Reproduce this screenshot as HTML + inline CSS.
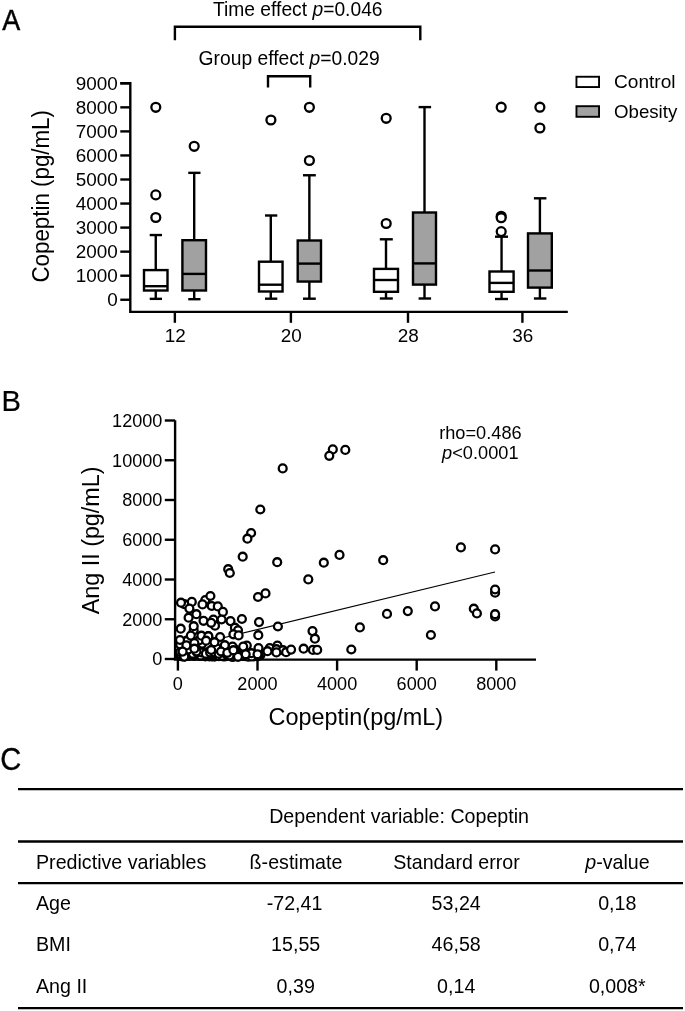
<!DOCTYPE html>
<html lang="en"><head><meta charset="utf-8"><title>Figure</title>
<style>
html,body{margin:0;padding:0;background:#fff}
body{width:685px;height:1011px;overflow:hidden}
svg{display:block}
svg text{font-family:"Liberation Sans", Arial, Helvetica, sans-serif;fill:#000}
</style></head><body>
<svg width="685" height="1011" viewBox="0 0 685 1011">
<rect width="685" height="1011" fill="#fff"/>
<g id="panelA">
<text transform="translate(2.2 29.8) scale(0.895 1)" font-size="30.1" text-anchor="start" stroke="#000" stroke-width="0.45">A</text>
<path d="M174.9 40.2V26.8H420.3V40.2" fill="none" stroke="#000" stroke-width="2.4"/>
<text transform="translate(212.9 16.05) scale(0.983 1)" font-size="19.6" text-anchor="start">Time effect <tspan font-style="italic">p</tspan>=0.046</text>
<path d="M268.0 87.6V76.3H310.2V87.6" fill="none" stroke="#000" stroke-width="2.4"/>
<text transform="translate(198.6 64.5) scale(0.983 1)" font-size="19.6" text-anchor="start">Group effect <tspan font-style="italic">p</tspan>=0.029</text>
<path d="M120.3 83.30H130.3V311.85H567.8" fill="none" stroke="#000" stroke-width="2.4"/>
<line x1="120.3" y1="299.75" x2="130.3" y2="299.75" stroke="#000" stroke-width="2.4"/>
<text x="117.8" y="306.25" font-size="18.9" text-anchor="end">0</text>
<line x1="120.3" y1="275.70" x2="130.3" y2="275.70" stroke="#000" stroke-width="2.4"/>
<text x="117.8" y="282.20" font-size="18.9" text-anchor="end">1000</text>
<line x1="120.3" y1="251.65" x2="130.3" y2="251.65" stroke="#000" stroke-width="2.4"/>
<text x="117.8" y="258.15" font-size="18.9" text-anchor="end">2000</text>
<line x1="120.3" y1="227.60" x2="130.3" y2="227.60" stroke="#000" stroke-width="2.4"/>
<text x="117.8" y="234.10" font-size="18.9" text-anchor="end">3000</text>
<line x1="120.3" y1="203.55" x2="130.3" y2="203.55" stroke="#000" stroke-width="2.4"/>
<text x="117.8" y="210.05" font-size="18.9" text-anchor="end">4000</text>
<line x1="120.3" y1="179.50" x2="130.3" y2="179.50" stroke="#000" stroke-width="2.4"/>
<text x="117.8" y="186.00" font-size="18.9" text-anchor="end">5000</text>
<line x1="120.3" y1="155.45" x2="130.3" y2="155.45" stroke="#000" stroke-width="2.4"/>
<text x="117.8" y="161.95" font-size="18.9" text-anchor="end">6000</text>
<line x1="120.3" y1="131.40" x2="130.3" y2="131.40" stroke="#000" stroke-width="2.4"/>
<text x="117.8" y="137.90" font-size="18.9" text-anchor="end">7000</text>
<line x1="120.3" y1="107.35" x2="130.3" y2="107.35" stroke="#000" stroke-width="2.4"/>
<text x="117.8" y="113.85" font-size="18.9" text-anchor="end">8000</text>
<line x1="120.3" y1="83.30" x2="130.3" y2="83.30" stroke="#000" stroke-width="2.4"/>
<text x="117.8" y="89.80" font-size="18.9" text-anchor="end">9000</text>
<text transform="translate(48.6 196.3) rotate(-90) scale(0.947 1)" font-size="23.6" text-anchor="middle">Copeptin (pg/mL)</text>
<line x1="174.85" y1="311.85" x2="174.85" y2="322.8" stroke="#000" stroke-width="2.4"/>
<text x="175.15" y="341.6" font-size="18.9" text-anchor="middle">12</text>
<line x1="290.9" y1="311.85" x2="290.9" y2="322.8" stroke="#000" stroke-width="2.4"/>
<text x="291.2" y="341.6" font-size="18.9" text-anchor="middle">20</text>
<line x1="408" y1="311.85" x2="408" y2="322.8" stroke="#000" stroke-width="2.4"/>
<text x="408.3" y="341.6" font-size="18.9" text-anchor="middle">28</text>
<line x1="522.4" y1="311.85" x2="522.4" y2="322.8" stroke="#000" stroke-width="2.4"/>
<text x="522.6999999999999" y="341.6" font-size="18.9" text-anchor="middle">36</text>
<line x1="155.75" y1="235.05" x2="155.75" y2="270.1" stroke="#000" stroke-width="2.4"/>
<line x1="155.75" y1="290.5" x2="155.75" y2="298.85" stroke="#000" stroke-width="2.4"/>
<line x1="149.7" y1="235.05" x2="162.0" y2="235.05" stroke="#000" stroke-width="2.4"/>
<line x1="149.7" y1="298.85" x2="162.0" y2="298.85" stroke="#000" stroke-width="2.4"/>
<rect x="144" y="270.1" width="23.5" height="20.399999999999977" fill="#fff" stroke="#000" stroke-width="2.4"/>
<line x1="144" y1="286.2" x2="167.5" y2="286.2" stroke="#000" stroke-width="2.4"/>
<circle cx="155.8" cy="107.3" r="4.45" fill="#fff" stroke="#000" stroke-width="2.3"/>
<circle cx="155.8" cy="194.9" r="4.45" fill="#fff" stroke="#000" stroke-width="2.3"/>
<circle cx="155.8" cy="217.5" r="4.45" fill="#fff" stroke="#000" stroke-width="2.3"/>
<line x1="194.2" y1="172.85" x2="194.2" y2="240.2" stroke="#000" stroke-width="2.4"/>
<line x1="194.2" y1="290.5" x2="194.2" y2="299.2" stroke="#000" stroke-width="2.4"/>
<line x1="188.25" y1="172.85" x2="200.5" y2="172.85" stroke="#000" stroke-width="2.4"/>
<line x1="188.25" y1="299.2" x2="200.5" y2="299.2" stroke="#000" stroke-width="2.4"/>
<rect x="182.4" y="240.2" width="23.599999999999994" height="50.30000000000001" fill="#a1a1a1" stroke="#000" stroke-width="2.4"/>
<line x1="182.4" y1="273.9" x2="206" y2="273.9" stroke="#000" stroke-width="2.4"/>
<circle cx="194.2" cy="146.3" r="4.45" fill="#fff" stroke="#000" stroke-width="2.3"/>
<line x1="270.775" y1="215.5" x2="270.775" y2="261.7" stroke="#000" stroke-width="2.4"/>
<line x1="270.775" y1="291.5" x2="270.775" y2="298.7" stroke="#000" stroke-width="2.4"/>
<line x1="265" y1="215.5" x2="277.3" y2="215.5" stroke="#000" stroke-width="2.4"/>
<line x1="265" y1="298.7" x2="277.3" y2="298.7" stroke="#000" stroke-width="2.4"/>
<rect x="259" y="261.7" width="23.55000000000001" height="29.80000000000001" fill="#fff" stroke="#000" stroke-width="2.4"/>
<line x1="259" y1="284.7" x2="282.55" y2="284.7" stroke="#000" stroke-width="2.4"/>
<circle cx="270.9" cy="120" r="4.45" fill="#fff" stroke="#000" stroke-width="2.3"/>
<line x1="309.35" y1="175.25" x2="309.35" y2="240.5" stroke="#000" stroke-width="2.4"/>
<line x1="309.35" y1="281.55" x2="309.35" y2="298.7" stroke="#000" stroke-width="2.4"/>
<line x1="303" y1="175.25" x2="315.8" y2="175.25" stroke="#000" stroke-width="2.4"/>
<line x1="303" y1="298.7" x2="315.8" y2="298.7" stroke="#000" stroke-width="2.4"/>
<rect x="297.7" y="240.5" width="23.30000000000001" height="41.05000000000001" fill="#a1a1a1" stroke="#000" stroke-width="2.4"/>
<line x1="297.7" y1="263.6" x2="321.0" y2="263.6" stroke="#000" stroke-width="2.4"/>
<circle cx="309.4" cy="107.3" r="4.45" fill="#fff" stroke="#000" stroke-width="2.3"/>
<circle cx="309.4" cy="160.5" r="4.45" fill="#fff" stroke="#000" stroke-width="2.3"/>
<line x1="386.0" y1="239.3" x2="386.0" y2="268.9" stroke="#000" stroke-width="2.4"/>
<line x1="386.0" y1="291.8" x2="386.0" y2="298.5" stroke="#000" stroke-width="2.4"/>
<line x1="379.8" y1="239.3" x2="392.8" y2="239.3" stroke="#000" stroke-width="2.4"/>
<line x1="379.8" y1="298.5" x2="392.8" y2="298.5" stroke="#000" stroke-width="2.4"/>
<rect x="374" y="268.9" width="24" height="22.900000000000034" fill="#fff" stroke="#000" stroke-width="2.4"/>
<line x1="374" y1="280" x2="398" y2="280" stroke="#000" stroke-width="2.4"/>
<circle cx="386.2" cy="118.3" r="4.45" fill="#fff" stroke="#000" stroke-width="2.3"/>
<circle cx="386.2" cy="223.5" r="4.45" fill="#fff" stroke="#000" stroke-width="2.3"/>
<line x1="424.5" y1="107.1" x2="424.5" y2="212.5" stroke="#000" stroke-width="2.4"/>
<line x1="424.5" y1="284.6" x2="424.5" y2="298.5" stroke="#000" stroke-width="2.4"/>
<line x1="418.6" y1="107.1" x2="431.1" y2="107.1" stroke="#000" stroke-width="2.4"/>
<line x1="418.6" y1="298.5" x2="431.1" y2="298.5" stroke="#000" stroke-width="2.4"/>
<rect x="413" y="212.5" width="23.0" height="72.10000000000002" fill="#a1a1a1" stroke="#000" stroke-width="2.4"/>
<line x1="413" y1="263.4" x2="436.0" y2="263.4" stroke="#000" stroke-width="2.4"/>
<line x1="501.55" y1="236.7" x2="501.55" y2="271.5" stroke="#000" stroke-width="2.4"/>
<line x1="501.55" y1="291.8" x2="501.55" y2="299" stroke="#000" stroke-width="2.4"/>
<line x1="495" y1="236.7" x2="508" y2="236.7" stroke="#000" stroke-width="2.4"/>
<line x1="495" y1="299" x2="508" y2="299" stroke="#000" stroke-width="2.4"/>
<rect x="489.5" y="271.5" width="24.100000000000023" height="20.30000000000001" fill="#fff" stroke="#000" stroke-width="2.4"/>
<line x1="489.5" y1="282.9" x2="513.6" y2="282.9" stroke="#000" stroke-width="2.4"/>
<circle cx="501.2" cy="107.2" r="4.45" fill="#fff" stroke="#000" stroke-width="2.3"/>
<circle cx="501.2" cy="216.3" r="4.45" fill="#fff" stroke="#000" stroke-width="2.3"/>
<circle cx="501.2" cy="217.7" r="4.45" fill="#fff" stroke="#000" stroke-width="2.3"/>
<circle cx="501.2" cy="231.6" r="4.45" fill="#fff" stroke="#000" stroke-width="2.3"/>
<line x1="539.9" y1="198.3" x2="539.9" y2="233.4" stroke="#000" stroke-width="2.4"/>
<line x1="539.9" y1="287.6" x2="539.9" y2="298.5" stroke="#000" stroke-width="2.4"/>
<line x1="533.9" y1="198.3" x2="546.4" y2="198.3" stroke="#000" stroke-width="2.4"/>
<line x1="533.9" y1="298.5" x2="546.4" y2="298.5" stroke="#000" stroke-width="2.4"/>
<rect x="528" y="233.4" width="23.799999999999955" height="54.20000000000002" fill="#a1a1a1" stroke="#000" stroke-width="2.4"/>
<line x1="528" y1="270.5" x2="551.8" y2="270.5" stroke="#000" stroke-width="2.4"/>
<circle cx="539.9" cy="107.2" r="4.45" fill="#fff" stroke="#000" stroke-width="2.3"/>
<circle cx="539.9" cy="128" r="4.45" fill="#fff" stroke="#000" stroke-width="2.3"/>
<rect x="576.45" y="76.75" width="22.6" height="10.3" fill="#fff" stroke="#000" stroke-width="1.9"/>
<rect x="576.45" y="106.2" width="22.6" height="10.6" fill="#a1a1a1" stroke="#000" stroke-width="1.9"/>
<text transform="translate(614.0 88.3) scale(1.0 1)" font-size="19.1" text-anchor="start">Control</text>
<text transform="translate(614.0 117.6) scale(0.978 1)" font-size="19.1" text-anchor="start">Obesity</text>
</g>
<g id="panelB">
<text transform="translate(1.45 410.8) scale(0.975 1)" font-size="29.9" text-anchor="start" stroke="#000" stroke-width="0.2">B</text>
<path d="M175.1 420.3V659.6" fill="none" stroke="#000" stroke-width="2.4"/>
<path d="M173.9 659.6H536" fill="none" stroke="#000" stroke-width="2.4"/>
<line x1="177.9" y1="648.8" x2="495.0" y2="572.0" stroke="#000" stroke-width="1.1"/>
<circle cx="199.0" cy="654.9" r="3.95" fill="#fff" stroke="#000" stroke-width="2.3"/>
<circle cx="190.8" cy="654.9" r="3.95" fill="#fff" stroke="#000" stroke-width="2.3"/>
<circle cx="206.9" cy="654.4" r="3.95" fill="#fff" stroke="#000" stroke-width="2.3"/>
<circle cx="206.6" cy="654.9" r="3.95" fill="#fff" stroke="#000" stroke-width="2.3"/>
<circle cx="233.4" cy="654.8" r="3.95" fill="#fff" stroke="#000" stroke-width="2.3"/>
<circle cx="223.9" cy="655.4" r="3.95" fill="#fff" stroke="#000" stroke-width="2.3"/>
<circle cx="184.8" cy="655.7" r="3.95" fill="#fff" stroke="#000" stroke-width="2.3"/>
<circle cx="183.1" cy="655.6" r="3.95" fill="#fff" stroke="#000" stroke-width="2.3"/>
<circle cx="185.7" cy="654.8" r="3.95" fill="#fff" stroke="#000" stroke-width="2.3"/>
<circle cx="214.8" cy="656.4" r="3.95" fill="#fff" stroke="#000" stroke-width="2.3"/>
<circle cx="190.2" cy="655.1" r="3.95" fill="#fff" stroke="#000" stroke-width="2.3"/>
<circle cx="231.4" cy="656.7" r="3.95" fill="#fff" stroke="#000" stroke-width="2.3"/>
<circle cx="227.3" cy="655.5" r="3.95" fill="#fff" stroke="#000" stroke-width="2.3"/>
<circle cx="260.1" cy="654.7" r="3.95" fill="#fff" stroke="#000" stroke-width="2.3"/>
<circle cx="250.4" cy="655.2" r="3.95" fill="#fff" stroke="#000" stroke-width="2.3"/>
<circle cx="191.8" cy="654.9" r="3.95" fill="#fff" stroke="#000" stroke-width="2.3"/>
<circle cx="205.3" cy="656.4" r="3.95" fill="#fff" stroke="#000" stroke-width="2.3"/>
<circle cx="194.8" cy="655.9" r="3.95" fill="#fff" stroke="#000" stroke-width="2.3"/>
<circle cx="232.4" cy="655.4" r="3.95" fill="#fff" stroke="#000" stroke-width="2.3"/>
<circle cx="224.9" cy="654.7" r="3.95" fill="#fff" stroke="#000" stroke-width="2.3"/>
<circle cx="184.9" cy="655.1" r="3.95" fill="#fff" stroke="#000" stroke-width="2.3"/>
<circle cx="235.8" cy="655.5" r="3.95" fill="#fff" stroke="#000" stroke-width="2.3"/>
<circle cx="205.8" cy="655.9" r="3.95" fill="#fff" stroke="#000" stroke-width="2.3"/>
<circle cx="217.2" cy="655.3" r="3.95" fill="#fff" stroke="#000" stroke-width="2.3"/>
<circle cx="245.1" cy="656.1" r="3.95" fill="#fff" stroke="#000" stroke-width="2.3"/>
<circle cx="200.0" cy="655.9" r="3.95" fill="#fff" stroke="#000" stroke-width="2.3"/>
<circle cx="223.1" cy="656.5" r="3.95" fill="#fff" stroke="#000" stroke-width="2.3"/>
<circle cx="239.8" cy="655.2" r="3.95" fill="#fff" stroke="#000" stroke-width="2.3"/>
<circle cx="260.4" cy="654.9" r="3.95" fill="#fff" stroke="#000" stroke-width="2.3"/>
<circle cx="214.3" cy="656.3" r="3.95" fill="#fff" stroke="#000" stroke-width="2.3"/>
<circle cx="192.5" cy="655.7" r="3.95" fill="#fff" stroke="#000" stroke-width="2.3"/>
<circle cx="183.2" cy="656.1" r="3.95" fill="#fff" stroke="#000" stroke-width="2.3"/>
<circle cx="242.7" cy="655.9" r="3.95" fill="#fff" stroke="#000" stroke-width="2.3"/>
<circle cx="251.8" cy="655.3" r="3.95" fill="#fff" stroke="#000" stroke-width="2.3"/>
<circle cx="237.0" cy="655.9" r="3.95" fill="#fff" stroke="#000" stroke-width="2.3"/>
<circle cx="227.6" cy="655.6" r="3.95" fill="#fff" stroke="#000" stroke-width="2.3"/>
<circle cx="248.9" cy="656.7" r="3.95" fill="#fff" stroke="#000" stroke-width="2.3"/>
<circle cx="218.9" cy="656.1" r="3.95" fill="#fff" stroke="#000" stroke-width="2.3"/>
<circle cx="185.0" cy="656.1" r="3.95" fill="#fff" stroke="#000" stroke-width="2.3"/>
<circle cx="233.1" cy="656.8" r="3.95" fill="#fff" stroke="#000" stroke-width="2.3"/>
<circle cx="247.4" cy="655.2" r="3.95" fill="#fff" stroke="#000" stroke-width="2.3"/>
<circle cx="211.6" cy="656.1" r="3.95" fill="#fff" stroke="#000" stroke-width="2.3"/>
<circle cx="181.9" cy="655.6" r="3.95" fill="#fff" stroke="#000" stroke-width="2.3"/>
<circle cx="193.8" cy="654.9" r="3.95" fill="#fff" stroke="#000" stroke-width="2.3"/>
<circle cx="184.8" cy="656.3" r="3.95" fill="#fff" stroke="#000" stroke-width="2.3"/>
<circle cx="190.6" cy="655.1" r="3.95" fill="#fff" stroke="#000" stroke-width="2.3"/>
<circle cx="212.1" cy="656.5" r="3.95" fill="#fff" stroke="#000" stroke-width="2.3"/>
<circle cx="186.6" cy="655.6" r="3.95" fill="#fff" stroke="#000" stroke-width="2.3"/>
<circle cx="225.1" cy="656.5" r="3.95" fill="#fff" stroke="#000" stroke-width="2.3"/>
<circle cx="247.2" cy="656.5" r="3.95" fill="#fff" stroke="#000" stroke-width="2.3"/>
<circle cx="202.8" cy="655.5" r="3.95" fill="#fff" stroke="#000" stroke-width="2.3"/>
<circle cx="209.4" cy="656.5" r="3.95" fill="#fff" stroke="#000" stroke-width="2.3"/>
<circle cx="258.5" cy="654.9" r="3.95" fill="#fff" stroke="#000" stroke-width="2.3"/>
<circle cx="194.4" cy="655.1" r="3.95" fill="#fff" stroke="#000" stroke-width="2.3"/>
<circle cx="199.1" cy="655.7" r="3.95" fill="#fff" stroke="#000" stroke-width="2.3"/>
<circle cx="228.3" cy="655.2" r="3.95" fill="#fff" stroke="#000" stroke-width="2.3"/>
<circle cx="180.3" cy="655.5" r="3.95" fill="#fff" stroke="#000" stroke-width="2.3"/>
<circle cx="210.3" cy="655.8" r="3.95" fill="#fff" stroke="#000" stroke-width="2.3"/>
<circle cx="258.2" cy="656.1" r="3.95" fill="#fff" stroke="#000" stroke-width="2.3"/>
<circle cx="222.3" cy="656.0" r="3.95" fill="#fff" stroke="#000" stroke-width="2.3"/>
<circle cx="235.4" cy="654.7" r="3.95" fill="#fff" stroke="#000" stroke-width="2.3"/>
<circle cx="253.8" cy="656.3" r="3.95" fill="#fff" stroke="#000" stroke-width="2.3"/>
<circle cx="251.7" cy="656.4" r="3.95" fill="#fff" stroke="#000" stroke-width="2.3"/>
<circle cx="212.2" cy="655.5" r="3.95" fill="#fff" stroke="#000" stroke-width="2.3"/>
<circle cx="188.5" cy="656.0" r="3.95" fill="#fff" stroke="#000" stroke-width="2.3"/>
<circle cx="185.1" cy="654.7" r="3.95" fill="#fff" stroke="#000" stroke-width="2.3"/>
<circle cx="197.1" cy="655.0" r="3.95" fill="#fff" stroke="#000" stroke-width="2.3"/>
<circle cx="207.9" cy="654.7" r="3.95" fill="#fff" stroke="#000" stroke-width="2.3"/>
<circle cx="180.0" cy="654.9" r="3.95" fill="#fff" stroke="#000" stroke-width="2.3"/>
<circle cx="188.3" cy="655.4" r="3.95" fill="#fff" stroke="#000" stroke-width="2.3"/>
<circle cx="182.1" cy="656.5" r="3.95" fill="#fff" stroke="#000" stroke-width="2.3"/>
<circle cx="230.4" cy="654.9" r="3.95" fill="#fff" stroke="#000" stroke-width="2.3"/>
<circle cx="200.7" cy="655.4" r="3.95" fill="#fff" stroke="#000" stroke-width="2.3"/>
<circle cx="201.1" cy="650.6" r="3.95" fill="#fff" stroke="#000" stroke-width="2.3"/>
<circle cx="229.2" cy="655.0" r="3.95" fill="#fff" stroke="#000" stroke-width="2.3"/>
<circle cx="207.0" cy="652.4" r="3.95" fill="#fff" stroke="#000" stroke-width="2.3"/>
<circle cx="185.0" cy="650.5" r="3.95" fill="#fff" stroke="#000" stroke-width="2.3"/>
<circle cx="199.9" cy="651.3" r="3.95" fill="#fff" stroke="#000" stroke-width="2.3"/>
<circle cx="228.1" cy="650.8" r="3.95" fill="#fff" stroke="#000" stroke-width="2.3"/>
<circle cx="181.3" cy="654.8" r="3.95" fill="#fff" stroke="#000" stroke-width="2.3"/>
<circle cx="210.6" cy="650.7" r="3.95" fill="#fff" stroke="#000" stroke-width="2.3"/>
<circle cx="211.5" cy="650.1" r="3.95" fill="#fff" stroke="#000" stroke-width="2.3"/>
<circle cx="210.6" cy="654.9" r="3.95" fill="#fff" stroke="#000" stroke-width="2.3"/>
<circle cx="230.1" cy="653.5" r="3.95" fill="#fff" stroke="#000" stroke-width="2.3"/>
<circle cx="195.1" cy="651.8" r="3.95" fill="#fff" stroke="#000" stroke-width="2.3"/>
<circle cx="189.7" cy="653.9" r="3.95" fill="#fff" stroke="#000" stroke-width="2.3"/>
<circle cx="210.9" cy="653.9" r="3.95" fill="#fff" stroke="#000" stroke-width="2.3"/>
<circle cx="199.1" cy="651.1" r="3.95" fill="#fff" stroke="#000" stroke-width="2.3"/>
<circle cx="227.1" cy="654.9" r="3.95" fill="#fff" stroke="#000" stroke-width="2.3"/>
<circle cx="229.5" cy="654.0" r="3.95" fill="#fff" stroke="#000" stroke-width="2.3"/>
<circle cx="227.5" cy="653.7" r="3.95" fill="#fff" stroke="#000" stroke-width="2.3"/>
<circle cx="193.2" cy="652.6" r="3.95" fill="#fff" stroke="#000" stroke-width="2.3"/>
<circle cx="200.6" cy="650.1" r="3.95" fill="#fff" stroke="#000" stroke-width="2.3"/>
<circle cx="181.6" cy="651.4" r="3.95" fill="#fff" stroke="#000" stroke-width="2.3"/>
<circle cx="195.0" cy="653.5" r="3.95" fill="#fff" stroke="#000" stroke-width="2.3"/>
<circle cx="235.5" cy="652.2" r="3.95" fill="#fff" stroke="#000" stroke-width="2.3"/>
<circle cx="234.3" cy="654.9" r="3.95" fill="#fff" stroke="#000" stroke-width="2.3"/>
<circle cx="235.4" cy="651.8" r="3.95" fill="#fff" stroke="#000" stroke-width="2.3"/>
<circle cx="180.0" cy="653.7" r="3.95" fill="#fff" stroke="#000" stroke-width="2.3"/>
<circle cx="184.3" cy="652.5" r="3.95" fill="#fff" stroke="#000" stroke-width="2.3"/>
<circle cx="188.6" cy="652.5" r="3.95" fill="#fff" stroke="#000" stroke-width="2.3"/>
<circle cx="192.9" cy="653.7" r="3.95" fill="#fff" stroke="#000" stroke-width="2.3"/>
<circle cx="197.2" cy="652.5" r="3.95" fill="#fff" stroke="#000" stroke-width="2.3"/>
<circle cx="201.5" cy="652.5" r="3.95" fill="#fff" stroke="#000" stroke-width="2.3"/>
<circle cx="205.8" cy="653.7" r="3.95" fill="#fff" stroke="#000" stroke-width="2.3"/>
<circle cx="210.1" cy="652.5" r="3.95" fill="#fff" stroke="#000" stroke-width="2.3"/>
<circle cx="214.4" cy="652.5" r="3.95" fill="#fff" stroke="#000" stroke-width="2.3"/>
<circle cx="218.7" cy="653.7" r="3.95" fill="#fff" stroke="#000" stroke-width="2.3"/>
<circle cx="223.0" cy="652.5" r="3.95" fill="#fff" stroke="#000" stroke-width="2.3"/>
<circle cx="227.3" cy="652.5" r="3.95" fill="#fff" stroke="#000" stroke-width="2.3"/>
<circle cx="231.6" cy="653.7" r="3.95" fill="#fff" stroke="#000" stroke-width="2.3"/>
<circle cx="235.9" cy="652.5" r="3.95" fill="#fff" stroke="#000" stroke-width="2.3"/>
<circle cx="180.3" cy="651.9" r="3.95" fill="#fff" stroke="#000" stroke-width="2.3"/>
<circle cx="180.2" cy="644.5" r="3.95" fill="#fff" stroke="#000" stroke-width="2.3"/>
<circle cx="184.3" cy="656.6" r="3.95" fill="#fff" stroke="#000" stroke-width="2.3"/>
<circle cx="202.2" cy="643.6" r="3.95" fill="#fff" stroke="#000" stroke-width="2.3"/>
<circle cx="186.9" cy="640.5" r="3.95" fill="#fff" stroke="#000" stroke-width="2.3"/>
<circle cx="208.3" cy="636.1" r="3.95" fill="#fff" stroke="#000" stroke-width="2.3"/>
<circle cx="184.3" cy="604.2" r="3.95" fill="#fff" stroke="#000" stroke-width="2.3"/>
<circle cx="205.3" cy="600.1" r="3.95" fill="#fff" stroke="#000" stroke-width="2.3"/>
<circle cx="213.4" cy="619.5" r="3.95" fill="#fff" stroke="#000" stroke-width="2.3"/>
<circle cx="215.0" cy="625.7" r="3.95" fill="#fff" stroke="#000" stroke-width="2.3"/>
<circle cx="193.7" cy="630.3" r="3.95" fill="#fff" stroke="#000" stroke-width="2.3"/>
<circle cx="186.9" cy="641.0" r="3.95" fill="#fff" stroke="#000" stroke-width="2.3"/>
<circle cx="246.8" cy="645.6" r="3.95" fill="#fff" stroke="#000" stroke-width="2.3"/>
<circle cx="269.7" cy="648.1" r="3.95" fill="#fff" stroke="#000" stroke-width="2.3"/>
<circle cx="277.4" cy="645.6" r="3.95" fill="#fff" stroke="#000" stroke-width="2.3"/>
<circle cx="276.4" cy="649.2" r="3.95" fill="#fff" stroke="#000" stroke-width="2.3"/>
<circle cx="283.0" cy="650.2" r="3.95" fill="#fff" stroke="#000" stroke-width="2.3"/>
<circle cx="251.3" cy="653.2" r="3.95" fill="#fff" stroke="#000" stroke-width="2.3"/>
<circle cx="234.5" cy="649.2" r="3.95" fill="#fff" stroke="#000" stroke-width="2.3"/>
<circle cx="196.5" cy="651.5" r="3.95" fill="#fff" stroke="#000" stroke-width="2.3"/>
<circle cx="216.5" cy="648.0" r="3.95" fill="#fff" stroke="#000" stroke-width="2.3"/>
<circle cx="229.5" cy="655.5" r="3.95" fill="#fff" stroke="#000" stroke-width="2.3"/>
<circle cx="232.5" cy="646.5" r="3.95" fill="#fff" stroke="#000" stroke-width="2.3"/>
<circle cx="199" cy="640.5" r="3.95" fill="#fff" stroke="#000" stroke-width="2.3"/>
<circle cx="188.5" cy="649.5" r="3.95" fill="#fff" stroke="#000" stroke-width="2.3"/>
<circle cx="181.0" cy="602.7" r="3.95" fill="#fff" stroke="#000" stroke-width="2.3"/>
<circle cx="191.8" cy="601.9" r="3.95" fill="#fff" stroke="#000" stroke-width="2.3"/>
<circle cx="189.4" cy="608.6" r="3.95" fill="#fff" stroke="#000" stroke-width="2.3"/>
<circle cx="196.4" cy="614.2" r="3.95" fill="#fff" stroke="#000" stroke-width="2.3"/>
<circle cx="188.6" cy="617.7" r="3.95" fill="#fff" stroke="#000" stroke-width="2.3"/>
<circle cx="202.5" cy="604.4" r="3.95" fill="#fff" stroke="#000" stroke-width="2.3"/>
<circle cx="210.4" cy="596.0" r="3.95" fill="#fff" stroke="#000" stroke-width="2.3"/>
<circle cx="211.7" cy="606.0" r="3.95" fill="#fff" stroke="#000" stroke-width="2.3"/>
<circle cx="217.8" cy="606.4" r="3.95" fill="#fff" stroke="#000" stroke-width="2.3"/>
<circle cx="222.9" cy="611.9" r="3.95" fill="#fff" stroke="#000" stroke-width="2.3"/>
<circle cx="221.6" cy="619.5" r="3.95" fill="#fff" stroke="#000" stroke-width="2.3"/>
<circle cx="203.5" cy="620.8" r="3.95" fill="#fff" stroke="#000" stroke-width="2.3"/>
<circle cx="211.1" cy="622.8" r="3.95" fill="#fff" stroke="#000" stroke-width="2.3"/>
<circle cx="230.5" cy="621.1" r="3.95" fill="#fff" stroke="#000" stroke-width="2.3"/>
<circle cx="234.9" cy="627.7" r="3.95" fill="#fff" stroke="#000" stroke-width="2.3"/>
<circle cx="238.0" cy="630.3" r="3.95" fill="#fff" stroke="#000" stroke-width="2.3"/>
<circle cx="233.4" cy="634.3" r="3.95" fill="#fff" stroke="#000" stroke-width="2.3"/>
<circle cx="180.7" cy="628.7" r="3.95" fill="#fff" stroke="#000" stroke-width="2.3"/>
<circle cx="193.7" cy="626.2" r="3.95" fill="#fff" stroke="#000" stroke-width="2.3"/>
<circle cx="190.8" cy="635.6" r="3.95" fill="#fff" stroke="#000" stroke-width="2.3"/>
<circle cx="201.4" cy="635.7" r="3.95" fill="#fff" stroke="#000" stroke-width="2.3"/>
<circle cx="208.3" cy="636.4" r="3.95" fill="#fff" stroke="#000" stroke-width="2.3"/>
<circle cx="220.1" cy="637.0" r="3.95" fill="#fff" stroke="#000" stroke-width="2.3"/>
<circle cx="180.0" cy="640.0" r="3.95" fill="#fff" stroke="#000" stroke-width="2.3"/>
<circle cx="186.4" cy="645.4" r="3.95" fill="#fff" stroke="#000" stroke-width="2.3"/>
<circle cx="194.4" cy="643.0" r="3.95" fill="#fff" stroke="#000" stroke-width="2.3"/>
<circle cx="206.1" cy="640.7" r="3.95" fill="#fff" stroke="#000" stroke-width="2.3"/>
<circle cx="214.5" cy="642.2" r="3.95" fill="#fff" stroke="#000" stroke-width="2.3"/>
<circle cx="224.8" cy="645.2" r="3.95" fill="#fff" stroke="#000" stroke-width="2.3"/>
<circle cx="182.6" cy="651.6" r="3.95" fill="#fff" stroke="#000" stroke-width="2.3"/>
<circle cx="194.4" cy="648.7" r="3.95" fill="#fff" stroke="#000" stroke-width="2.3"/>
<circle cx="211.2" cy="650.0" r="3.95" fill="#fff" stroke="#000" stroke-width="2.3"/>
<circle cx="221.0" cy="651.5" r="3.95" fill="#fff" stroke="#000" stroke-width="2.3"/>
<circle cx="227.3" cy="652.8" r="3.95" fill="#fff" stroke="#000" stroke-width="2.3"/>
<circle cx="238.0" cy="656.8" r="3.95" fill="#fff" stroke="#000" stroke-width="2.3"/>
<circle cx="233.4" cy="650.2" r="3.95" fill="#fff" stroke="#000" stroke-width="2.3"/>
<circle cx="258.0" cy="597.0" r="3.95" fill="#fff" stroke="#000" stroke-width="2.3"/>
<circle cx="265.5" cy="593.4" r="3.95" fill="#fff" stroke="#000" stroke-width="2.3"/>
<circle cx="241.9" cy="619.0" r="3.95" fill="#fff" stroke="#000" stroke-width="2.3"/>
<circle cx="259.0" cy="622.1" r="3.95" fill="#fff" stroke="#000" stroke-width="2.3"/>
<circle cx="277.9" cy="626.5" r="3.95" fill="#fff" stroke="#000" stroke-width="2.3"/>
<circle cx="238.6" cy="635.4" r="3.95" fill="#fff" stroke="#000" stroke-width="2.3"/>
<circle cx="258.3" cy="635.2" r="3.95" fill="#fff" stroke="#000" stroke-width="2.3"/>
<circle cx="243.2" cy="646.6" r="3.95" fill="#fff" stroke="#000" stroke-width="2.3"/>
<circle cx="258.5" cy="648.1" r="3.95" fill="#fff" stroke="#000" stroke-width="2.3"/>
<circle cx="245.7" cy="654.3" r="3.95" fill="#fff" stroke="#000" stroke-width="2.3"/>
<circle cx="257.5" cy="654.3" r="3.95" fill="#fff" stroke="#000" stroke-width="2.3"/>
<circle cx="267.5" cy="651.2" r="3.95" fill="#fff" stroke="#000" stroke-width="2.3"/>
<circle cx="276.4" cy="652.4" r="3.95" fill="#fff" stroke="#000" stroke-width="2.3"/>
<circle cx="286.1" cy="652.2" r="3.95" fill="#fff" stroke="#000" stroke-width="2.3"/>
<circle cx="291.1" cy="649.6" r="3.95" fill="#fff" stroke="#000" stroke-width="2.3"/>
<circle cx="303.6" cy="648.7" r="3.95" fill="#fff" stroke="#000" stroke-width="2.3"/>
<circle cx="312.5" cy="631.1" r="3.95" fill="#fff" stroke="#000" stroke-width="2.3"/>
<circle cx="314.9" cy="638.7" r="3.95" fill="#fff" stroke="#000" stroke-width="2.3"/>
<circle cx="312.9" cy="649.9" r="3.95" fill="#fff" stroke="#000" stroke-width="2.3"/>
<circle cx="317.2" cy="649.9" r="3.95" fill="#fff" stroke="#000" stroke-width="2.3"/>
<circle cx="351.3" cy="649.5" r="3.95" fill="#fff" stroke="#000" stroke-width="2.3"/>
<circle cx="359.9" cy="627.4" r="3.95" fill="#fff" stroke="#000" stroke-width="2.3"/>
<circle cx="387.0" cy="613.9" r="3.95" fill="#fff" stroke="#000" stroke-width="2.3"/>
<circle cx="407.8" cy="611.1" r="3.95" fill="#fff" stroke="#000" stroke-width="2.3"/>
<circle cx="430.9" cy="635.0" r="3.95" fill="#fff" stroke="#000" stroke-width="2.3"/>
<circle cx="435.0" cy="606.4" r="3.95" fill="#fff" stroke="#000" stroke-width="2.3"/>
<circle cx="473.8" cy="608.7" r="3.95" fill="#fff" stroke="#000" stroke-width="2.3"/>
<circle cx="476.9" cy="613.4" r="3.95" fill="#fff" stroke="#000" stroke-width="2.3"/>
<circle cx="495.1" cy="592.7" r="3.95" fill="#fff" stroke="#000" stroke-width="2.3"/>
<circle cx="495.1" cy="589.5" r="3.95" fill="#fff" stroke="#000" stroke-width="2.3"/>
<circle cx="495.1" cy="616.4" r="3.95" fill="#fff" stroke="#000" stroke-width="2.3"/>
<circle cx="495.1" cy="614.2" r="3.95" fill="#fff" stroke="#000" stroke-width="2.3"/>
<circle cx="495.1" cy="549.4" r="3.95" fill="#fff" stroke="#000" stroke-width="2.3"/>
<circle cx="460.9" cy="547.4" r="3.95" fill="#fff" stroke="#000" stroke-width="2.3"/>
<circle cx="383.2" cy="560.2" r="3.95" fill="#fff" stroke="#000" stroke-width="2.3"/>
<circle cx="332.8" cy="449.4" r="3.95" fill="#fff" stroke="#000" stroke-width="2.3"/>
<circle cx="329.3" cy="455.8" r="3.95" fill="#fff" stroke="#000" stroke-width="2.3"/>
<circle cx="345.3" cy="449.9" r="3.95" fill="#fff" stroke="#000" stroke-width="2.3"/>
<circle cx="282.7" cy="468.4" r="3.95" fill="#fff" stroke="#000" stroke-width="2.3"/>
<circle cx="260.3" cy="509.5" r="3.95" fill="#fff" stroke="#000" stroke-width="2.3"/>
<circle cx="251.1" cy="533.0" r="3.95" fill="#fff" stroke="#000" stroke-width="2.3"/>
<circle cx="247.4" cy="538.7" r="3.95" fill="#fff" stroke="#000" stroke-width="2.3"/>
<circle cx="242.7" cy="556.7" r="3.95" fill="#fff" stroke="#000" stroke-width="2.3"/>
<circle cx="277.2" cy="562.2" r="3.95" fill="#fff" stroke="#000" stroke-width="2.3"/>
<circle cx="228.2" cy="569.2" r="3.95" fill="#fff" stroke="#000" stroke-width="2.3"/>
<circle cx="229.8" cy="573.0" r="3.95" fill="#fff" stroke="#000" stroke-width="2.3"/>
<circle cx="308.3" cy="579.4" r="3.95" fill="#fff" stroke="#000" stroke-width="2.3"/>
<circle cx="323.8" cy="562.7" r="3.95" fill="#fff" stroke="#000" stroke-width="2.3"/>
<circle cx="339.5" cy="554.9" r="3.95" fill="#fff" stroke="#000" stroke-width="2.3"/>
<line x1="164.8" y1="659.00" x2="175.1" y2="659.00" stroke="#000" stroke-width="2.4"/>
<text x="162.4" y="665.25" font-size="18.1" text-anchor="end">0</text>
<line x1="164.8" y1="619.25" x2="175.1" y2="619.25" stroke="#000" stroke-width="2.4"/>
<text x="162.4" y="625.50" font-size="18.1" text-anchor="end">2000</text>
<line x1="164.8" y1="579.50" x2="175.1" y2="579.50" stroke="#000" stroke-width="2.4"/>
<text x="162.4" y="585.75" font-size="18.1" text-anchor="end">4000</text>
<line x1="164.8" y1="539.75" x2="175.1" y2="539.75" stroke="#000" stroke-width="2.4"/>
<text x="162.4" y="546.00" font-size="18.1" text-anchor="end">6000</text>
<line x1="164.8" y1="500.00" x2="175.1" y2="500.00" stroke="#000" stroke-width="2.4"/>
<text x="162.4" y="506.25" font-size="18.1" text-anchor="end">8000</text>
<line x1="164.8" y1="460.25" x2="175.1" y2="460.25" stroke="#000" stroke-width="2.4"/>
<text x="162.4" y="466.50" font-size="18.1" text-anchor="end">10000</text>
<line x1="164.8" y1="420.50" x2="175.1" y2="420.50" stroke="#000" stroke-width="2.4"/>
<text x="162.4" y="426.75" font-size="18.1" text-anchor="end">12000</text>
<line x1="177.90" y1="659.6" x2="177.90" y2="670.6" stroke="#000" stroke-width="2.4"/>
<text x="177.90" y="690" font-size="18.1" text-anchor="middle">0</text>
<line x1="257.50" y1="659.6" x2="257.50" y2="670.6" stroke="#000" stroke-width="2.4"/>
<text x="257.50" y="690" font-size="18.1" text-anchor="middle">2000</text>
<line x1="337.10" y1="659.6" x2="337.10" y2="670.6" stroke="#000" stroke-width="2.4"/>
<text x="337.10" y="690" font-size="18.1" text-anchor="middle">4000</text>
<line x1="416.70" y1="659.6" x2="416.70" y2="670.6" stroke="#000" stroke-width="2.4"/>
<text x="416.70" y="690" font-size="18.1" text-anchor="middle">6000</text>
<line x1="496.30" y1="659.6" x2="496.30" y2="670.6" stroke="#000" stroke-width="2.4"/>
<text x="496.30" y="690" font-size="18.1" text-anchor="middle">8000</text>
<text transform="translate(355.8 725.4) scale(0.985 1)" font-size="23.8" text-anchor="middle">Copeptin(pg/mL)</text>
<text transform="translate(98.8 540.4) rotate(-90) scale(0.98 1)" font-size="23.8" text-anchor="middle">Ang II (pg/mL)</text>
<text transform="translate(480.4 438.5) scale(0.968 1)" font-size="18.8" text-anchor="middle">rho=0.486</text>
<text transform="translate(480.3 458.5) scale(0.968 1)" font-size="18.8" text-anchor="middle"><tspan font-style="italic">p</tspan>&lt;0.0001</text>
</g>
<g id="panelC">
<text transform="translate(0.25 769.7) scale(0.915 1)" font-size="31.8" text-anchor="start" stroke="#000" stroke-width="0.3">C</text>
<line x1="18" y1="789.2" x2="683" y2="789.2" stroke="#000" stroke-width="2.3"/>
<line x1="18" y1="841.5" x2="683" y2="841.5" stroke="#000" stroke-width="2.3"/>
<line x1="18" y1="883.1" x2="683" y2="883.1" stroke="#000" stroke-width="2.3"/>
<line x1="18" y1="1008.2" x2="683" y2="1008.2" stroke="#000" stroke-width="2.3"/>
<text x="399.1" y="822.5" font-size="19.65" text-anchor="middle">Dependent variable: Copeptin</text>
<text x="36" y="869" font-size="19.65" text-anchor="start">Predictive variables</text>
<text x="296.0" y="869" font-size="19.65" text-anchor="middle">ß-estimate</text>
<text x="456.5" y="869" font-size="19.65" text-anchor="middle">Standard error</text>
<text x="617.5" y="869" font-size="19.65" text-anchor="middle"><tspan font-style="italic">p</tspan>-value</text>
<text x="36" y="910" font-size="19.65" text-anchor="start">Age</text>
<text x="294.6" y="910" font-size="19.65" text-anchor="middle">-72,41</text>
<text x="456.2" y="910" font-size="19.65" text-anchor="middle">53,24</text>
<text x="617.3" y="910" font-size="19.65" text-anchor="middle">0,18</text>
<text x="36" y="951" font-size="19.65" text-anchor="start">BMI</text>
<text x="295.7" y="951" font-size="19.65" text-anchor="middle">15,55</text>
<text x="456.2" y="951" font-size="19.65" text-anchor="middle">46,58</text>
<text x="617.3" y="951" font-size="19.65" text-anchor="middle">0,74</text>
<text x="36" y="993" font-size="19.65" text-anchor="start">Ang II</text>
<text x="295.7" y="993" font-size="19.65" text-anchor="middle">0,39</text>
<text x="456.2" y="993" font-size="19.65" text-anchor="middle">0,14</text>
<text x="617.3" y="993" font-size="19.65" text-anchor="middle">0,008*</text>
</g>
</svg>
</body></html>
